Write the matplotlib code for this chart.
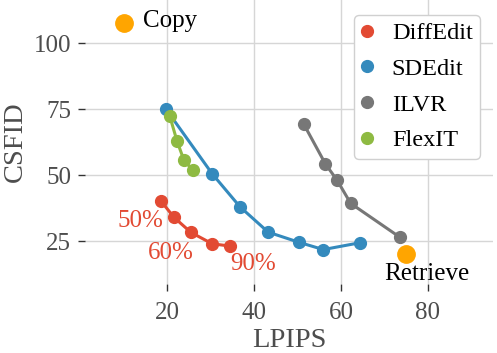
import matplotlib
matplotlib.use("Agg")
import matplotlib.pyplot as plt

plt.rcParams['font.family'] = ['Liberation Serif', 'DejaVu Serif']

# Data
diffedit_x = [18.5, 21.5, 25.4, 30.3, 34.5]
diffedit_y = [40.2, 34.0, 28.3, 24.0, 23.1]
sdedit_x = [19.7, 30.3, 36.7, 43.2, 50.4, 55.9, 64.4]
sdedit_y = [74.9, 50.5, 38.0, 28.4, 24.5, 21.8, 24.4]
ilvr_x = [51.4, 56.4, 59.1, 62.2, 73.6]
ilvr_y = [69.3, 54.2, 48.0, 39.3, 26.4]
flexit_x = [20.5, 22.2, 23.8, 25.8]
flexit_y = [72.5, 62.9, 55.6, 52.0]
copy_pt = (10.1, 107.6)
retrieve_pt = (74.9, 20.1)
xticks = [20, 40, 60, 80]
yticks = [25, 50, 75, 100]
pct_labels = ["50%", "60%", "90%"]
pct_pos = [(13.8, 32.8), (20.7, 20.6), (39.8, 16.5)]

C_RED = '#E24A33'
C_BLUE = '#348ABD'
C_GRAY = '#777777'
C_GREEN = '#8EBA42'
C_ORANGE = '#FFA500'

fig = plt.figure(figsize=(4.97, 3.53), dpi=100)
ax = fig.add_axes([0.171, 0.195, 0.821, 0.805])

series = [
    ("DiffEdit", diffedit_x, diffedit_y, C_RED),
    ("SDEdit", sdedit_x, sdedit_y, C_BLUE),
    ("ILVR", ilvr_x, ilvr_y, C_GRAY),
    ("FlexIT", flexit_x, flexit_y, C_GREEN),
]
handles = []
for name, xs, ys, c in series:
    ax.plot(xs, ys, '-', color=c, lw=2.2, zorder=3)
    ax.plot(xs, ys, 'o', color=c, ms=8.5, zorder=4)
    h, = ax.plot([], [], 'o', color=c, ms=8.5, label=name)
    handles.append(h)

ax.plot([copy_pt[0]], [copy_pt[1]], 'o', color=C_ORANGE, ms=12.5, zorder=5)
ax.plot([retrieve_pt[0]], [retrieve_pt[1]], 'o', color=C_ORANGE, ms=12.5, zorder=5)
ax.text(14.3, 108.3, "Copy", fontsize=18, color='black', va='center', ha='left')
ax.text(79.7, 12.7, "Retrieve", fontsize=18, color='black', va='center', ha='center')
for lab, (px, py) in zip(pct_labels, pct_pos):
    ax.text(px, py, lab, fontsize=18, color=C_RED, va='center', ha='center')

ax.set_xlim(1, 95)
ax.set_ylim(8.7, 116.3)
ax.set_xticks(xticks)
ax.set_yticks(yticks)
ax.grid(True, color='#d6d6d6', lw=1.0)
ax.set_axisbelow(True)
for s in ax.spines.values():
    s.set_visible(False)
ax.tick_params(axis='x', direction='out', length=5, width=1, color='#333333',
               labelsize=18, labelcolor='#4d4d4d', pad=8)
ax.tick_params(axis='y', direction='out', length=5, width=1, color='#333333',
               labelsize=18, labelcolor='#4d4d4d', pad=5)
ax.set_xlabel("LPIPS", fontsize=20.5, color='#4d4d4d', labelpad=3)
ax.set_ylabel("CSFID", fontsize=20.5, color='#4d4d4d')
ax.yaxis.set_label_coords(-0.14, 0.5)

leg = ax.legend(handles=handles, loc='upper right', fontsize=17.5, frameon=True,
                fancybox=True, edgecolor='#d0d0d0', framealpha=1.0,
                handlelength=0.5, handletextpad=0.75, borderpad=0.3,
                labelspacing=0.56, borderaxespad=0.0,
                bbox_to_anchor=(0.968, 0.947))

fig.savefig("out.png", dpi=100)
